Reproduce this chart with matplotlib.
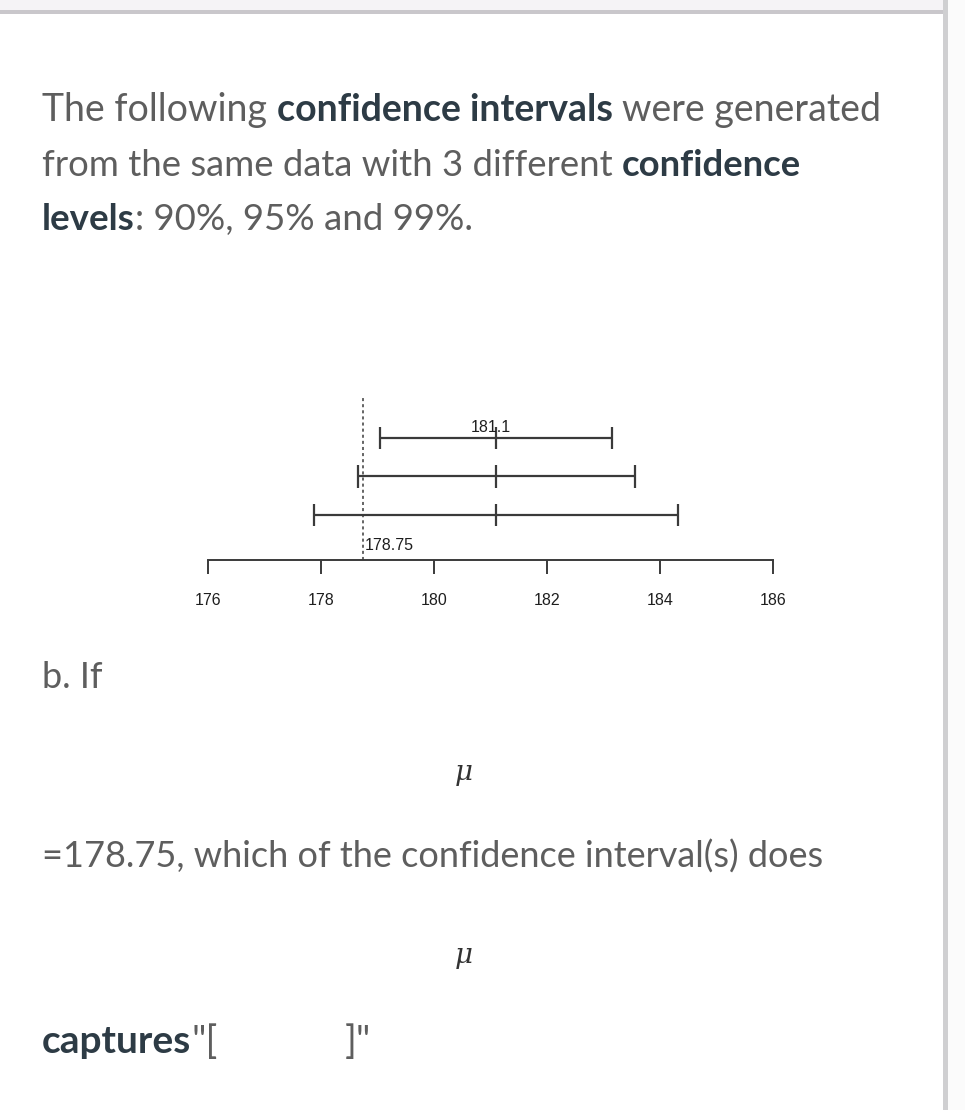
import matplotlib
matplotlib.use("Agg")
import matplotlib.pyplot as plt
from matplotlib.patches import Rectangle

# ---- data ----
levels = ["90%", "95%", "99%"]
lower = [179.05, 178.65, 177.88]
upper = [183.15, 183.55, 184.32]
center = 181.1
mu_value = 178.75
ticks = [176, 178, 180, 182, 184, 186]
tick_labels = ["176", "178", "180", "182", "184", "186"]
row_y = [3, 2, 1]

W, H = 965, 1110
fig = plt.figure(figsize=(W / 100, H / 100), dpi=100)
fig.patch.set_facecolor("white")

bg = fig.add_axes([0, 0, 1, 1])
bg.set_xlim(0, W)
bg.set_ylim(H, 0)
bg.axis("off")

# page chrome
bg.add_patch(Rectangle((0, 0), W, 11, color="#f5f3f6", lw=0))
bg.add_patch(Rectangle((0, 10), 948, 3.5, color="#c9c7cb", lw=0))
bg.add_patch(Rectangle((943, 0), 5, H, color="#cfcfd1", lw=0))
bg.add_patch(Rectangle((948, 0), W - 948, H, color="#fbfbfb", lw=0))

renderer = fig.canvas.get_renderer()
REG = "#5e5e5e"
BOLD = "#2d3b45"
FS = 27


def width_of(s, weight, size):
    t = bg.text(0, 0, s, fontsize=size, fontfamily="Lato", fontweight=weight)
    w = t.get_window_extent(renderer).width
    t.remove()
    return w


def rich(x, y, segs, size=FS):
    for s, weight, color in segs:
        if s == " ":
            x += width_of("x x", "normal", size) - width_of("xx", "normal", size)
            continue
        t = bg.text(x, y, s, fontsize=size, fontfamily="Lato", fontweight=weight,
                    color=color, va="baseline", ha="left")
        x += t.get_window_extent(renderer).width


sp = (" ", "normal", REG)
rich(42, 121, [("The following", "normal", REG), sp, ("confidence intervals", "bold", BOLD),
               sp, ("were generated", "normal", REG)])
rich(42, 176, [("from the same data with 3 different", "normal", REG), sp,
               ("confidence", "bold", BOLD)], size=26.3)
rich(42, 230, [("levels", "bold", BOLD), (": 90%, 95% and 99%.", "normal", REG)], size=26.4)

rich(42, 688, [("b. If", "normal", REG)], size=26)
bg.text(464, 780, "\u03bc", fontsize=20, fontfamily="DejaVu Serif", style="italic",
        color="#333333", ha="center", va="baseline")
rich(42, 868, [("=178.75, which of the confidence interval(s) does", "normal", REG)], size=26)
bg.text(464, 963, "\u03bc", fontsize=20, fontfamily="DejaVu Serif", style="italic",
        color="#333333", ha="center", va="baseline")
rich(42, 1053, [("captures", "bold", BOLD), ("\"[", "normal", REG)], size=28)
rich(345, 1053, [("]\"", "normal", REG)], size=28)

# ---- chart ----
ax = fig.add_axes([208 / W, (H - 560) / H, (773 - 208) / W, 180 / H])
ax.set_facecolor("none")
ax.set_xlim(176, 186)
ax.set_ylim(-0.169, 4.506)
for s in ["top", "right", "left"]:
    ax.spines[s].set_visible(False)
ax.spines["bottom"].set_bounds(176, 186)
ax.spines["bottom"].set_color("#3a3a3a")
ax.spines["bottom"].set_linewidth(1.4)
ax.set_yticks([])
ax.set_xticks(ticks)
ax.set_xticklabels(tick_labels, fontfamily="Liberation Sans")
ax.tick_params(axis="x", direction="out", length=10, width=1.4, color="#3a3a3a",
               labelsize=11.5, pad=14, labelcolor="#1e1e1e")

LC = "#3a3a3a"
cap = 0.29
ax.hlines(row_y, lower, upper, color=LC, lw=1.6)
ax.vlines(lower, [y - cap for y in row_y], [y + cap for y in row_y], color=LC, lw=1.6)
ax.vlines(upper, [y - cap for y in row_y], [y + cap for y in row_y], color=LC, lw=1.6)
ax.vlines([center] * 3, [y - cap for y in row_y], [y + cap for y in row_y], color=LC, lw=1.6)

ax.vlines(mu_value, -0.169, 4.1, color=LC, lw=1.1, linestyles=(0, (2, 2)))

ax.text(mu_value + 0.03, 0.22, "178.75", fontsize=11.5, fontfamily="Liberation Sans",
        color="#1e1e1e", ha="left", va="center")
ax.text(center - 0.1, 3.27, "181.1", fontsize=11.5, fontfamily="Liberation Sans",
        color="#1e1e1e", ha="center", va="center")

fig.savefig("out.png", dpi=100)
